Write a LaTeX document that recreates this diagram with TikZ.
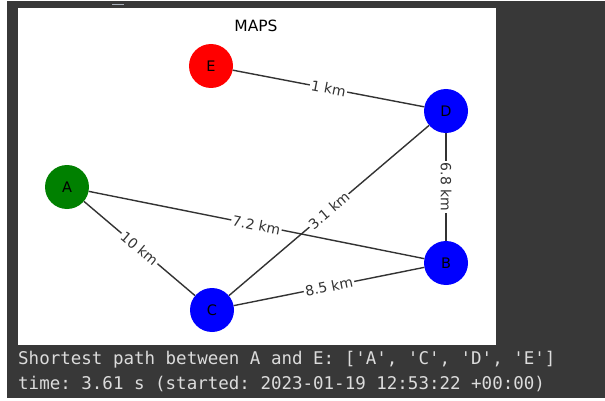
\documentclass[tikz,border=0pt]{standalone}
\usepackage{fontspec}
\setmainfont{DejaVu Sans}
\setmonofont{DejaVu Sans Mono}
\usepackage{tikz}
\definecolor{NotebookBg}{HTML}{383838}
\definecolor{EdgeInk}{HTML}{333333}
\definecolor{OutputText}{HTML}{DCDCDC}
\definecolor{ScrollMark}{HTML}{A9B0BA}
\definecolor{StartGreen}{HTML}{008000}
\definecolor{GoalRed}{HTML}{FF0000}
\definecolor{StopBlue}{HTML}{0000FF}
\tikzset{
  graphfig/.style={x=1pt,y=-1pt,font=\fontsize{14}{14}\selectfont},
  city/.style={circle,minimum size=44pt,inner sep=0pt,text=black,font=\fontsize{14.5}{14.5}\selectfont},
  road/.style={draw=EdgeInk,line width=1.4pt},
  dist/.style={fill=white,inner sep=1.4pt,sloped,text=EdgeInk},
  outline/.style={anchor=base west,inner sep=0pt,text=OutputText,font=\ttfamily\fontsize{17.5}{17.5}\selectfont},
}

\begin{document}
\begin{tikzpicture}[graphfig]
  \useasboundingbox (0,0) rectangle (605,401);
  \fill[white] (0,0) rectangle (605,401);
  \fill[NotebookBg] (7,1.5) rectangle (605,397.5);
  \fill[white] (17.5,8) rectangle (496,345);
  \draw[ScrollMark,line width=1.4pt] (112,4.5) -- (124,4.5);

  \node[font=\fontsize{15.5}{15.5}\selectfont] (title) at (256,26) {MAPS};

  \node[city,fill=GoalRed] (E) at (211,66) {E};
  \node[city,fill=StopBlue] (D) at (446,111) {D};
  \node[city,fill=StartGreen] (A) at (67,187) {A};
  \node[city,fill=StopBlue] (B) at (446,263) {B};
  \node[city,fill=StopBlue] (C) at (212,310) {C};

  \draw[road] (E) -- node[dist] {1 km} (D);
  \draw[road] (A) -- node[dist] {7.2 km} (B);
  \draw[road] (A) -- node[dist] {10 km} (C);
  \draw[road] (C) -- node[dist] {8.5 km} (B);
  \draw[road] (D) -- node[dist] {6.8 km} (B);
  \draw[road] (C) -- node[dist] {3.1 km} (D);

  \node[outline] (pathline) at (18,364) {Shortest path between A and E: ['A', 'C', 'D', 'E']};
  \node[outline] (timeline) at (18,389) {time: 3.61 s (started: 2023-01-19 12:53:22 +00:00)};
\end{tikzpicture}
\end{document}
